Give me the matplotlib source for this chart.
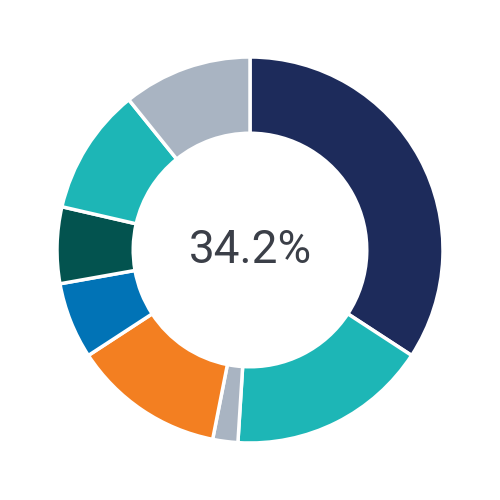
import matplotlib.pyplot as plt

# slice shares (percent), clockwise from 12 o'clock
values = [34.2, 16.8, 2.1, 12.7, 6.4, 6.4, 10.6, 10.8]
colors = ['#1d2b5b', '#1db6b6', '#a9b4c2', '#f37f21', '#0173b6', '#03534f', '#1db6b6', '#a9b4c2']
center_label = '34.2%'

fig = plt.figure(figsize=(5, 5), dpi=100)
ax = fig.add_axes([0, 0, 1, 1])

ax.pie(values, colors=colors, startangle=90, counterclock=False,
       radius=1.0, wedgeprops=dict(width=0.395, edgecolor='white', linewidth=2.5))

ax.text(0, 0.0, center_label, ha='center', va='center', fontsize=33,
        color='#3b3f48', family=['Roboto', 'DejaVu Sans'])

lim = 250 / 193
ax.set_xlim(-lim, lim)
ax.set_ylim(-lim, lim)
ax.set_aspect('equal')
ax.axis('off')

plt.savefig('out.png', dpi=100)
